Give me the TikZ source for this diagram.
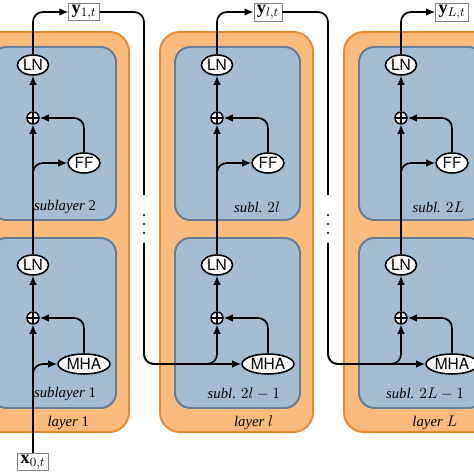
\documentclass[tikz,border=0pt]{standalone}
\usepackage{fontspec}
\usepackage{amsmath}
\usetikzlibrary{arrows.meta}
\usetikzlibrary{shapes.geometric}
\setmainfont{Liberation Serif}
\newfontfamily\blocksf{TeX Gyre Heros}
\definecolor{layerfill}{RGB}{250,187,125}
\definecolor{layerdraw}{RGB}{232,138,42}
\definecolor{subfill}{RGB}{165,189,210}
\definecolor{subdraw}{RGB}{98,126,154}
\tikzset{
 blk/.style={ellipse, draw, fill=white, line width=1.1pt, inner xsep=0pt, inner ysep=0pt, minimum height=0.5cm, font=\blocksf\fontsize{11}{13}\selectfont},
 addnode/.style={circle, draw, fill=white, line width=1pt, minimum size=0.3cm, inner sep=0pt,
  path picture={\draw[line width=0.8pt] (path picture bounding box.west) -- (path picture bounding box.east)
   (path picture bounding box.north) -- (path picture bounding box.south);}},
 iobox/.style={draw=gray, fill=white, line width=0.6pt, inner xsep=2pt, inner ysep=1.5pt, font=\fontsize{13}{15}\selectfont},
 sublab/.style={anchor=east, font=\fontsize{10.5}{12}\selectfont},
 flow/.style={line width=1.2pt, -{Latex[length=6.5pt,width=5.5pt]}, rounded corners=7},
 wire/.style={line width=1.2pt, rounded corners=7},
}

\begin{document}
\begin{tikzpicture}[x=0.025cm, y=0.025cm]
\useasboundingbox (0,0) rectangle (474,474);
\foreach \m/\i/\up/\lo/\lay [evaluate=\m as \b using \m+51] in
 {33/1/{\textit{sublayer} 2}/{\textit{sublayer} 1}/{\textit{layer} 1},
  217/l/{\textit{subl.} $2l$}/{\textit{subl.} $2l-1$}/{\textit{layer} $l$},
  401/L/{\textit{subl.} $2L$}/{\textit{subl.} $2L-1$}/{\textit{layer} $L$}} {
 % layer and its two sublayers
 \filldraw[fill=layerfill, draw=layerdraw, line width=1.4pt, rounded corners=14] ({\m-57},42) rectangle ({\m+96},442);
 \filldraw[fill=subfill, draw=subdraw, line width=1.4pt, rounded corners=11] ({\m-42},254) rectangle ({\m+83},427);
 \filldraw[fill=subfill, draw=subdraw, line width=1.4pt, rounded corners=11] ({\m-42},66) rectangle ({\m+83},236);
 \node[sublab] (lay-\i) at ({\m+61},51) {\lay};
 \node[sublab] (labU-\i) at ({\m+68},267) {\up};
 \node[sublab] (labD-\i) at ({\m+68},80) {\lo};
 % blocks
 \node[blk, minimum width=0.78cm] (lnU-\i) at (\m,409) {LN};
 \node[addnode] (addU-\i) at (\m,356) {};
 \node[blk, minimum width=0.8cm] (ff-\i) at (\b,311) {FF};
 \node[blk, minimum width=0.78cm] (lnD-\i) at (\m,209) {LN};
 \node[addnode] (addD-\i) at (\m,156) {};
 \node[blk, minimum width=1.3cm] (mha-\i) at (\b,110) {MHA};
 \node[iobox] (y-\i) at (\b,462) {$\mathbf{y}_{\i,t}$};
 \coordinate (br-\i) at (\m,294);
 % connectors
 \draw[flow] (addD-\i) -- (lnD-\i);
 \draw[flow] (lnD-\i) -- (addU-\i);
 \draw[flow] (addU-\i) -- (lnU-\i);
 \draw[flow] (br-\i) |- (ff-\i);
 \draw[flow] (ff-\i) |- (addU-\i);
 \draw[flow] (mha-\i) |- (addD-\i);
 \draw[flow] (lnU-\i) |- (y-\i);
}
% input of the first layer
\node[iobox] (x0) at (33,12) {$\mathbf{x}_{0,t}$};
\coordinate (br0) at (33,94);
\draw[flow] (x0) -- (addD-1);
\draw[flow] (br0) |- (mha-1);
% from one layer to the next
\foreach \p/\n/\g in {1/l/144, l/L/328} {
 \coordinate (gap-\p) at (\g,279);
 \coordinate (in-\n) at (\g,231);
 \draw[wire] (y-\p.east) -| (gap-\p);
 \foreach \d in {259,250,241} \fill (\g,\d) circle (0.8pt);
 \draw[flow] (in-\n) |- (mha-\n);
 \draw[flow] (in-\n) |- (addD-\n |- mha-\n) -- (addD-\n);
}
\end{tikzpicture}
\end{document}
